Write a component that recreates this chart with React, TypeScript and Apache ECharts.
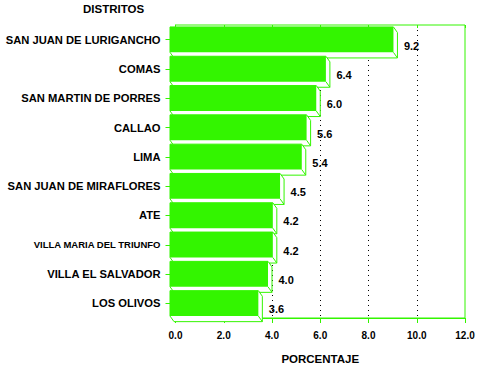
import React, { useEffect, useRef } from "react";
import * as echarts from "echarts";

const categories = [
  "SAN JUAN DE LURIGANCHO",
  "COMAS",
  "SAN MARTIN DE PORRES",
  "CALLAO",
  "LIMA",
  "SAN JUAN DE MIRAFLORES",
  "ATE",
  "VILLA MARIA DEL TRIUNFO",
  "VILLA EL SALVADOR",
  "LOS OLIVOS",
];
const values = [9.2, 6.4, 6.0, 5.6, 5.4, 4.5, 4.2, 4.2, 4.0, 3.6];
const smallLabels = ["VILLA MARIA DEL TRIUNFO"];

const GREEN = "#33f500";
const FONT = "Liberation Sans, Arial, sans-serif";

export default function App() {
  const ref = useRef<HTMLDivElement>(null);
  useEffect(() => {
    if (!ref.current) return;
    const chart = echarts.init(ref.current, undefined, { renderer: "svg" });
    chart.setOption({
      animation: false,
      backgroundColor: "#ffffff",
      title: {
        text: "DISTRITOS",
        left: 78,
        top: -2,
        textStyle: { fontFamily: FONT, fontSize: 11.5, fontWeight: "bold", color: "#000" },
      },
      grid: {
        left: 175.5,
        right: 15,
        top: 25,
        bottom: 45,
        show: true,
        borderColor: GREEN,
        borderWidth: 1,
        backgroundColor: "#fff",
      },
      xAxis: [
        {
          type: "value",
          min: 0,
          max: 12,
          interval: 2,
          position: "bottom",
          name: "PORCENTAJE",
          nameLocation: "middle",
          nameGap: 35,
          nameTextStyle: { fontFamily: FONT, fontSize: 11.5, fontWeight: "bold", color: "#000" },
          axisLine: { show: true, lineStyle: { color: GREEN, width: 1 } },
          axisTick: { show: true, length: 5, lineStyle: { color: GREEN } },
          axisLabel: {
            margin: 12,
            fontFamily: FONT,
            fontSize: 10,
            fontWeight: "bold",
            color: "#000",
            formatter: (v: number) => v.toFixed(1),
          },
          splitLine: {
            show: true,
            showMinLine: false,
            showMaxLine: false,
            lineStyle: { color: "#000", width: 1, type: [1, 4] },
          },
        },
        {
          type: "value",
          min: 0,
          max: 12,
          interval: 2,
          position: "top",
          axisLine: { show: false },
          axisTick: { show: true, inside: true, length: 3, lineStyle: { color: GREEN } },
          axisLabel: { show: false },
          splitLine: { show: false },
        },
      ],
      yAxis: {
        type: "category",
        data: categories,
        inverse: true,
        axisLine: { show: true, lineStyle: { color: GREEN } },
        axisTick: { show: true, alignWithLabel: true, length: 10, lineStyle: { color: GREEN } },
        axisLabel: {
          margin: 15,
          fontFamily: FONT,
          fontSize: 11.2,
          fontWeight: "bold",
          color: "#000",
          formatter: (v: string) => (smallLabels.includes(v) ? `{s|${v}}` : v),
          rich: {
            s: { fontFamily: FONT, fontSize: 9.5, fontWeight: "bold", color: "#000" },
          },
        },
        splitLine: { show: false },
      },
      series: [
        {
          type: "custom",
          xAxisIndex: 0,
          data: values.map((v, i) => [v, i]),
          renderItem: (params: any, api: any) => {
            const v = api.value(0);
            const c = api.value(1);
            const p0 = api.coord([0, c]);
            const p1 = api.coord([v, c]);
            const cy = p0[1];
            const x0f = p0[0] - 5.5;
            const x1f = p1[0] - 4;
            const x0b = p0[0] - 1.5;
            const x1b = p1[0];
            const tf = cy - 12.7;
            const bf = cy + 12.7;
            const tb = cy - 7.1;
            const bb = cy + 18.3;
            return {
              type: "group",
              children: [
                {
                  type: "polygon",
                  shape: {
                    points: [
                      [x0f, tf],
                      [x1f, tf],
                      [x1b, tb],
                      [x1b, bb],
                      [x0b, bb],
                      [x0f, bf],
                    ],
                  },
                  style: { fill: "#fff", stroke: GREEN, lineWidth: 1 },
                },
                {
                  type: "line",
                  shape: { x1: x1f, y1: bf, x2: x1b, y2: bb },
                  style: { stroke: GREEN, lineWidth: 1 },
                },
                {
                  type: "rect",
                  shape: { x: x0f, y: tf, width: x1f - x0f, height: bf - tf },
                  style: { fill: GREEN },
                },
                {
                  type: "text",
                  x: x1b + 6.5,
                  y: cy + 6,
                  style: {
                    text: v.toFixed(1),
                    fontFamily: FONT,
                    fontSize: 11,
                    fontWeight: "bold",
                    fill: "#000",
                    align: "left",
                    verticalAlign: "middle",
                  },
                },
              ],
            };
          },
        },
      ],
    });
    return () => chart.dispose();
  }, []);
  return (
    <div
      ref={ref}
      style={{ position: "fixed", left: 0, top: 0, width: 480, height: 370 }}
    />
  );
}
